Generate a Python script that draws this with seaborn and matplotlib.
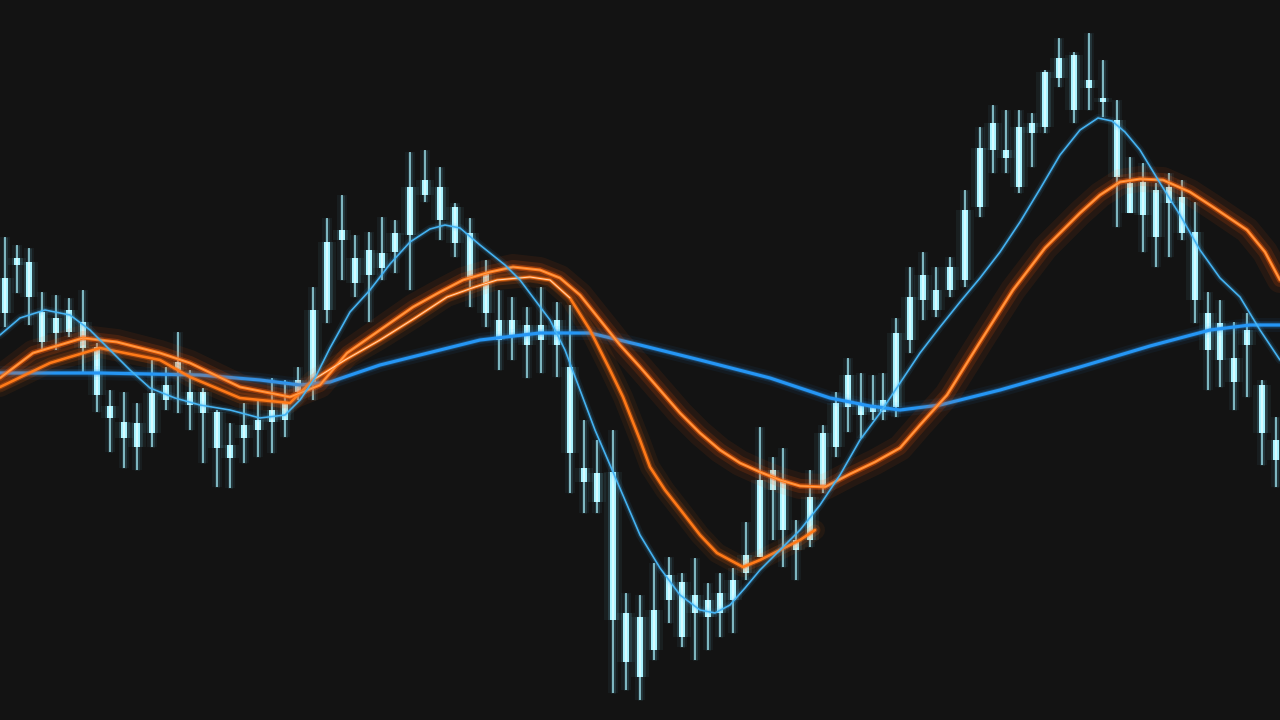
import numpy as np
import pandas as pd
import matplotlib
matplotlib.use("Agg")
import matplotlib.pyplot as plt
import seaborn as sns

# candles, read in picture pixels (y grows downward)
candle_x = [5, 17, 29, 42, 56, 69, 83, 97, 110, 124, 137, 152, 166, 178, 190, 203, 217, 230,
            244, 258, 272, 285, 298, 313, 327, 342, 355, 369, 382, 395, 410, 425, 440, 455,
            470, 486, 499, 512, 527, 541, 557, 570, 584, 597, 613, 626, 640, 654, 669, 682,
            695, 708, 720, 733, 746, 760, 773, 783, 796, 810, 823, 836, 848, 861, 873, 883,
            896, 910, 923, 936, 950, 965, 980, 993, 1006, 1019, 1032, 1045, 1059, 1074, 1089,
            1103, 1117, 1130, 1143, 1156, 1169, 1182, 1195, 1208, 1220, 1234, 1247, 1262, 1276]
wick_hi = [237, 245, 248, 292, 295, 298, 290, 343, 390, 392, 403, 360, 367, 332, 370, 388, 410, 423,
           403, 400, 378, 380, 367, 287, 218, 195, 235, 232, 217, 220, 152, 150, 167, 203,
           218, 260, 290, 297, 307, 287, 302, 305, 420, 440, 430, 593, 595, 563, 557, 573,
           558, 583, 573, 568, 522, 427, 457, 448, 520, 470, 425, 392, 358, 373, 375, 373,
           318, 267, 252, 267, 257, 190, 127, 105, 110, 110, 113, 70, 38, 52, 33,
           60, 100, 157, 163, 183, 173, 180, 202, 292, 300, 322, 313, 380, 417]
body_top = [278, 258, 262, 312, 318, 310, 322, 347, 406, 422, 423, 393, 385, 362, 392, 392, 412, 445,
            425, 420, 410, 403, 380, 310, 242, 230, 258, 250, 253, 233, 187, 180, 187, 207,
            233, 273, 320, 320, 325, 325, 320, 367, 468, 473, 472, 613, 617, 610, 575, 582,
            595, 600, 593, 580, 555, 480, 470, 480, 540, 497, 433, 403, 375, 405, 405, 400,
            333, 297, 275, 290, 267, 210, 148, 123, 150, 127, 123, 72, 58, 55, 80,
            98, 120, 183, 182, 190, 187, 197, 232, 313, 323, 358, 330, 385, 440]
body_bot = [313, 265, 297, 342, 333, 332, 348, 395, 418, 438, 447, 433, 400, 370, 405, 413, 448, 458,
            438, 430, 422, 420, 392, 382, 310, 240, 283, 275, 268, 252, 235, 195, 220, 243,
            278, 313, 340, 337, 345, 340, 345, 453, 482, 502, 620, 662, 677, 650, 600, 637,
            613, 617, 613, 600, 573, 557, 490, 530, 550, 540, 487, 447, 407, 415, 412, 412,
            407, 340, 300, 310, 290, 280, 207, 150, 158, 187, 133, 127, 78, 110, 88,
            102, 177, 213, 215, 237, 203, 233, 300, 350, 360, 382, 345, 433, 460]
wick_lo = [327, 293, 325, 350, 350, 337, 372, 412, 452, 468, 470, 447, 410, 413, 430, 463, 487, 488,
           463, 457, 453, 437, 400, 400, 323, 280, 297, 322, 280, 273, 290, 202, 240, 257,
           307, 327, 370, 360, 378, 373, 377, 493, 513, 513, 693, 690, 700, 660, 623, 647,
           660, 650, 637, 633, 580, 557, 540, 567, 580, 547, 493, 457, 432, 438, 420, 420,
           417, 353, 320, 317, 297, 287, 217, 173, 173, 193, 167, 133, 87, 123, 110,
           117, 227, 213, 252, 267, 257, 240, 323, 390, 387, 410, 397, 465, 487]

# fast moving average (thin blue)
fast_x = [0, 20, 45, 70, 90, 110, 130, 150, 175, 200, 230, 260, 285, 300, 315, 330, 350, 370,
          390, 410, 430, 445, 460, 480, 505, 520, 535, 550, 565, 580, 595, 610, 625, 640, 660,
          680, 700, 715, 730, 745, 760, 780, 800, 820, 840, 860, 880, 900, 920, 940, 960, 980,
          1000, 1020, 1040, 1060, 1080, 1098, 1112, 1125, 1140, 1160, 1180, 1200, 1220, 1240,
          1260, 1280]
fast_y = [335, 318, 310, 315, 330, 350, 370, 388, 398, 405, 410, 418, 415, 400, 378, 348, 312, 290,
          264, 242, 229, 225, 228, 245, 265, 280, 300, 320, 350, 390, 430, 465, 500, 535, 568,
          595, 610, 613, 605, 588, 570, 550, 530, 505, 475, 440, 413, 383, 353, 327, 302, 278,
          252, 222, 189, 155, 130, 118, 121, 132, 150, 183, 215, 250, 278, 297, 330, 360]

# upper orange average
orange1_x = [0, 33, 83, 117, 160, 190, 240, 290, 320, 347, 380, 413, 440, 463, 490, 513, 540, 560,
             580, 600, 620, 640, 660, 680, 700, 720, 740, 760, 780, 800, 825, 850, 875, 900, 920,
             947, 980, 1013, 1045, 1080, 1100, 1120, 1140, 1163, 1190, 1213, 1247, 1265, 1280]
orange1_y = [378, 353, 338, 342, 353, 363, 387, 397, 385, 353, 330, 307, 292, 280, 272, 267, 270, 278,
             295, 320, 345, 367, 390, 413, 433, 450, 463, 472, 480, 486, 487, 474, 462, 448, 425,
             395, 342, 290, 248, 213, 195, 182, 179, 180, 192, 207, 230, 252, 280]

# lower orange average
orange2_x = [0, 50, 100, 160, 190, 240, 290, 313, 345, 380, 415, 447, 475, 497, 530, 550, 570, 590,
             610, 623, 640, 650, 665, 683, 700, 717, 743, 760, 780, 800, 815]
orange2_y = [387, 363, 348, 360, 377, 398, 403, 380, 360, 340, 318, 297, 287, 280, 277, 280, 298, 330,
             370, 397, 440, 467, 490, 513, 535, 553, 567, 560, 550, 540, 530]

# slow moving average (thick blue)
slow_x = [0, 100, 200, 260, 300, 330, 380, 420, 480, 540, 590, 640, 700, 770, 830, 870, 900, 940,
          1000, 1080, 1150, 1210, 1250, 1280]
slow_y = [373, 373, 375, 380, 385, 382, 365, 355, 340, 333, 333, 345, 360, 378, 398, 406, 410, 405,
          390, 367, 346, 330, 325, 325]

BG = "#131313"
CANDLE = "#a9f3ff"
FAST = "#45b4f4"
SLOW = "#2596f5"
ORANGE = "#ff7a18"

sns.set_theme(style="dark", rc={"axes.facecolor": BG, "figure.facecolor": BG})

fig = plt.figure(figsize=(12.8, 7.2), dpi=100)
ax = fig.add_axes([0, 0, 1, 1])
ax.set_facecolor(BG)

PX = 0.72  # points per pixel at dpi 100


def glow_line(xs, ys, color, core, halo, alphas, core_color=None, z=3):
    df = pd.DataFrame({"x": xs, "y": ys})
    for w, a in zip(halo, alphas):
        sns.lineplot(data=df, x="x", y="y", ax=ax, color=color, linewidth=w * PX,
                     alpha=a, sort=False, zorder=z, solid_capstyle="round",
                     solid_joinstyle="round")
    sns.lineplot(data=df, x="x", y="y", ax=ax, color=core_color or color,
                 linewidth=core * PX, sort=False, zorder=z + 0.5, solid_capstyle="round",
                 solid_joinstyle="round")


cx = np.array(candle_x)
hi = np.array(wick_hi)
lo = np.array(wick_lo)
bt = np.array(body_top)
bb = np.array(body_bot)
bh = np.maximum(bb - bt, 3)

# candle glow
for w, a in [(10, 0.05), (5, 0.12)]:
    ax.vlines(cx, hi, lo, color="#7fe6ff", linewidth=w * PX, alpha=a, zorder=2)
for w, a in [(18, 0.06), (11, 0.12)]:
    ax.bar(cx, bh, bottom=bt, width=w, color="#7fe6ff", alpha=a, linewidth=0, zorder=2)
ax.vlines(cx, hi, lo, color=CANDLE, linewidth=1.6 * PX, alpha=0.85, zorder=2.2)
ax.bar(cx, bh, bottom=bt, width=6.5, color=CANDLE, linewidth=0, zorder=2.3)
ax.bar(cx, bh, bottom=bt, width=2.5, color="#e8fdff", linewidth=0, alpha=0.7, zorder=2.4)

# moving averages
glow_line(slow_x, slow_y, SLOW, 3.2, [14, 8, 5], [0.06, 0.12, 0.25], z=3)
glow_line(orange2_x, orange2_y, "#ff6a10", 2.6, [20, 11, 5], [0.07, 0.14, 0.35],
          core_color=ORANGE, z=4)
glow_line(orange1_x, orange1_y, "#ff5a0a", 3.0, [26, 14, 6], [0.08, 0.15, 0.35],
          core_color=ORANGE, z=4)
glow_line(fast_x, fast_y, FAST, 1.6, [8, 4], [0.08, 0.2], z=5)

# bright core highlights on the orange lines
ax.plot(orange2_x[7:17], orange2_y[7:17], color="#fff3e6", linewidth=0.9 * PX, alpha=0.8,
        zorder=4.8, solid_joinstyle="round")
ax.plot(orange1_x, orange1_y, color="#ffb070", linewidth=1.0 * PX, alpha=0.7, zorder=4.8,
        solid_joinstyle="round")

ax.set_xlim(0, 1280)
ax.set_ylim(720, 0)
ax.set_axis_off()

fig.savefig("out.png", dpi=100, facecolor=BG)
